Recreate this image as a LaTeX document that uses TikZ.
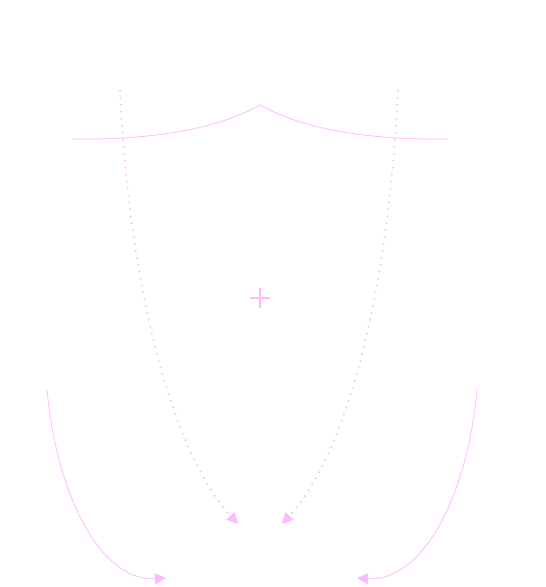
\documentclass[tikz,border=0pt]{standalone}
\usetikzlibrary{arrows.meta,calc}
\definecolor{pinkline}{RGB}{255,185,255}
\begin{document}
\begin{tikzpicture}[x=1pt,y=-1pt,
  curve/.style={draw=pinkline,line width=0.8pt},
  dotcurve/.style={draw=pinkline,line width=1.6pt,dash pattern=on 1.6pt off 5.4pt},
  tip/.style={-{Triangle[length=11pt,width=11pt,fill=pinkline]}}]
\useasboundingbox (0,0) rectangle (546,587);
\coordinate (tl) at (72,139);
\coordinate (cusp) at (260,105);
\coordinate (tr) at (448,139);
\draw[curve] (tl) .. controls (150,140) and (215,130) .. (cusp)
             .. controls (305,130) and (370,140) .. (tr);
% plus
\coordinate (c) at (260,298);
\draw[draw=pinkline,line width=1.5pt] ($(c)+(-10,0)$) -- ($(c)+(10,0)$);
\draw[draw=pinkline,line width=1.5pt] ($(c)+(0,-10)$) -- ($(c)+(0,10)$);
% dotted arrows
\coordinate (d1s) at (120,90);
\coordinate (d1e) at (238,524);
\coordinate (d2s) at (398,90);
\coordinate (d2e) at (282,524);
\draw[dotcurve,tip] (d1s) .. controls (130,300) and (175,455) .. (d1e);
\draw[dotcurve,tip] (d2s) .. controls (388,300) and (345,455) .. (d2e);
% solid arrows
\coordinate (s1s) at (47,390);
\coordinate (s1e) at (166,578);
\coordinate (s2s) at (477,390);
\coordinate (s2e) at (357,578);
\draw[curve,tip] (s1s) .. controls (58,505) and (105,582) .. (s1e);
\draw[curve,tip] (s2s) .. controls (466,505) and (419,582) .. (s2e);
\end{tikzpicture}
\end{document}
